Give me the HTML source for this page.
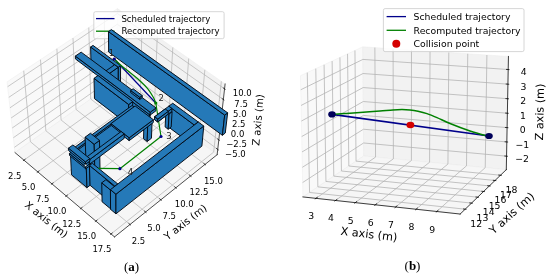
<!DOCTYPE html>
<html><head><meta charset="utf-8"><title>Figure</title><style>html,body{margin:0;padding:0;background:#fff}svg{display:block}</style></head><body>
<svg width="550" height="278" viewBox="0 0 550 278" font-family="DejaVu Sans, Liberation Sans, sans-serif">
<rect width="550" height="278" fill="#fff"/>
<polygon points="15.00,152.58 117.27,80.22 117.37,8.58 7.07,81.84" fill="#f9f9f9" stroke="#e8e8e8" stroke-width="0.4"/>
<polygon points="117.27,80.22 217.15,154.69 225.11,83.98 117.37,8.58" fill="#f2f2f2" stroke="#e8e8e8" stroke-width="0.4"/>
<polygon points="15.00,152.58 114.53,236.91 217.15,154.69 117.27,80.22" fill="#f6f6f6" stroke="#e8e8e8" stroke-width="0.4"/>
<polyline points="23.94,160.16 126.28,86.93 127.04,15.35" fill="none" stroke="#b0b0b0" stroke-width="0.68" stroke-linejoin="round"/>
<polyline points="37.78,171.88 140.20,97.31 142.01,25.82" fill="none" stroke="#b0b0b0" stroke-width="0.68" stroke-linejoin="round"/>
<polyline points="51.88,183.83 154.37,107.88 157.27,36.50" fill="none" stroke="#b0b0b0" stroke-width="0.68" stroke-linejoin="round"/>
<polyline points="66.25,196.00 168.80,118.63 172.82,47.39" fill="none" stroke="#b0b0b0" stroke-width="0.68" stroke-linejoin="round"/>
<polyline points="80.90,208.41 183.49,129.59 188.68,58.49" fill="none" stroke="#b0b0b0" stroke-width="0.68" stroke-linejoin="round"/>
<polyline points="95.83,221.06 198.44,140.74 204.85,69.80" fill="none" stroke="#b0b0b0" stroke-width="0.68" stroke-linejoin="round"/>
<polyline points="111.06,233.96 213.68,152.10 221.35,81.35" fill="none" stroke="#b0b0b0" stroke-width="0.68" stroke-linejoin="round"/>
<polyline points="130.02,224.50 30.39,141.70 23.73,70.77" fill="none" stroke="#b0b0b0" stroke-width="0.68" stroke-linejoin="round"/>
<polyline points="145.59,212.02 45.87,130.74 40.47,59.66" fill="none" stroke="#b0b0b0" stroke-width="0.68" stroke-linejoin="round"/>
<polyline points="160.87,199.78 61.08,119.98 56.89,48.75" fill="none" stroke="#b0b0b0" stroke-width="0.68" stroke-linejoin="round"/>
<polyline points="175.86,187.77 76.02,109.40 73.00,38.05" fill="none" stroke="#b0b0b0" stroke-width="0.68" stroke-linejoin="round"/>
<polyline points="190.57,175.98 90.71,99.01 88.81,27.54" fill="none" stroke="#b0b0b0" stroke-width="0.68" stroke-linejoin="round"/>
<polyline points="205.02,164.41 105.14,88.80 104.33,17.23" fill="none" stroke="#b0b0b0" stroke-width="0.68" stroke-linejoin="round"/>
<polyline points="14.41,147.32 117.28,74.86 217.74,149.43" fill="none" stroke="#b0b0b0" stroke-width="0.68" stroke-linejoin="round"/>
<polyline points="13.34,137.75 117.29,65.14 218.82,139.87" fill="none" stroke="#b0b0b0" stroke-width="0.68" stroke-linejoin="round"/>
<polyline points="12.24,127.98 117.31,55.23 219.92,130.10" fill="none" stroke="#b0b0b0" stroke-width="0.68" stroke-linejoin="round"/>
<polyline points="11.12,118.00 117.32,45.11 221.04,120.12" fill="none" stroke="#b0b0b0" stroke-width="0.68" stroke-linejoin="round"/>
<polyline points="9.98,107.80 117.33,34.79 222.19,109.93" fill="none" stroke="#b0b0b0" stroke-width="0.68" stroke-linejoin="round"/>
<polyline points="8.81,97.37 117.35,24.25 223.36,99.51" fill="none" stroke="#b0b0b0" stroke-width="0.68" stroke-linejoin="round"/>
<polyline points="7.61,86.71 117.36,13.49 224.56,88.85" fill="none" stroke="#b0b0b0" stroke-width="0.68" stroke-linejoin="round"/>
<line x1="15.00" y1="152.58" x2="114.53" y2="236.91" stroke="#000" stroke-width="0.68" stroke-linecap="square"/>
<line x1="114.53" y1="236.91" x2="217.15" y2="154.69" stroke="#000" stroke-width="0.68" stroke-linecap="square"/>
<line x1="217.15" y1="154.69" x2="225.11" y2="83.98" stroke="#000" stroke-width="0.68" stroke-linecap="square"/>
<line x1="25.57" y1="158.99" x2="22.97" y2="160.86" stroke="#000" stroke-width="0.68"/>
<line x1="39.40" y1="170.70" x2="36.81" y2="172.59" stroke="#000" stroke-width="0.68"/>
<line x1="53.49" y1="182.64" x2="50.91" y2="184.54" stroke="#000" stroke-width="0.68"/>
<line x1="67.84" y1="194.80" x2="65.29" y2="196.72" stroke="#000" stroke-width="0.68"/>
<line x1="82.48" y1="207.19" x2="79.94" y2="209.14" stroke="#000" stroke-width="0.68"/>
<line x1="97.40" y1="219.83" x2="94.88" y2="221.80" stroke="#000" stroke-width="0.68"/>
<line x1="112.62" y1="232.72" x2="110.12" y2="234.71" stroke="#000" stroke-width="0.68"/>
<line x1="128.49" y1="223.22" x2="130.95" y2="225.26" stroke="#000" stroke-width="0.68"/>
<line x1="144.04" y1="210.76" x2="146.52" y2="212.78" stroke="#000" stroke-width="0.68"/>
<line x1="159.31" y1="198.53" x2="161.81" y2="200.53" stroke="#000" stroke-width="0.68"/>
<line x1="174.29" y1="186.54" x2="176.81" y2="188.51" stroke="#000" stroke-width="0.68"/>
<line x1="188.99" y1="174.76" x2="191.53" y2="176.72" stroke="#000" stroke-width="0.68"/>
<line x1="203.42" y1="163.20" x2="205.98" y2="165.13" stroke="#000" stroke-width="0.68"/>
<line x1="216.14" y1="148.24" x2="218.71" y2="150.14" stroke="#000" stroke-width="0.68"/>
<line x1="217.21" y1="138.68" x2="219.79" y2="140.58" stroke="#000" stroke-width="0.68"/>
<line x1="218.30" y1="128.92" x2="220.89" y2="130.81" stroke="#000" stroke-width="0.68"/>
<line x1="219.42" y1="118.95" x2="222.02" y2="120.83" stroke="#000" stroke-width="0.68"/>
<line x1="220.57" y1="108.76" x2="223.17" y2="110.63" stroke="#000" stroke-width="0.68"/>
<line x1="221.73" y1="98.35" x2="224.34" y2="100.20" stroke="#000" stroke-width="0.68"/>
<line x1="222.93" y1="87.70" x2="225.55" y2="89.54" stroke="#000" stroke-width="0.68"/>
<text x="14.74" y="178.56" font-size="8.50" text-anchor="middle" fill="#000" >2.5</text>
<text x="28.58" y="190.28" font-size="8.50" text-anchor="middle" fill="#000" >5.0</text>
<text x="42.68" y="202.23" font-size="8.50" text-anchor="middle" fill="#000" >7.5</text>
<text x="57.05" y="214.40" font-size="8.50" text-anchor="middle" fill="#000" >10.0</text>
<text x="71.70" y="226.81" font-size="8.50" text-anchor="middle" fill="#000" >12.5</text>
<text x="86.63" y="239.46" font-size="8.50" text-anchor="middle" fill="#000" >15.0</text>
<text x="101.86" y="252.36" font-size="8.50" text-anchor="middle" fill="#000" >17.5</text>
<text x="138.42" y="243.80" font-size="8.50" text-anchor="middle" fill="#000" >2.5</text>
<text x="153.99" y="231.32" font-size="8.50" text-anchor="middle" fill="#000" >5.0</text>
<text x="169.27" y="219.08" font-size="8.50" text-anchor="middle" fill="#000" >7.5</text>
<text x="184.26" y="207.07" font-size="8.50" text-anchor="middle" fill="#000" >10.0</text>
<text x="198.97" y="195.28" font-size="8.50" text-anchor="middle" fill="#000" >12.5</text>
<text x="213.42" y="183.71" font-size="8.50" text-anchor="middle" fill="#000" >15.0</text>
<text x="235.44" y="156.53" font-size="8.50" text-anchor="middle" fill="#000" >−5.0</text>
<text x="236.52" y="146.97" font-size="8.50" text-anchor="middle" fill="#000" >−2.5</text>
<text x="237.62" y="137.20" font-size="8.50" text-anchor="middle" fill="#000" >0.0</text>
<text x="238.74" y="127.22" font-size="8.50" text-anchor="middle" fill="#000" >2.5</text>
<text x="239.89" y="117.03" font-size="8.50" text-anchor="middle" fill="#000" >5.0</text>
<text x="241.06" y="106.61" font-size="8.50" text-anchor="middle" fill="#000" >7.5</text>
<text x="242.26" y="95.95" font-size="8.50" text-anchor="middle" fill="#000" >10.0</text>
<text x="44.20" y="222.30" font-size="10.20" text-anchor="middle" fill="#000"  transform="rotate(38.5 44.20 222.30)">X axis (m)</text>
<text x="187.60" y="224.90" font-size="10.20" text-anchor="middle" fill="#000"  transform="rotate(-38.0 187.60 224.90)">Y axis (m)</text>
<text x="258.00" y="120.00" font-size="10.20" text-anchor="middle" fill="#000" dominant-baseline="central" transform="rotate(-85.3 258.00 120.00)">Z axis (m)</text>
<rect x="93.8" y="11.7" width="130.3" height="27.0" rx="1.7" fill="#fff" fill-opacity="0.8" stroke="#ccc" stroke-width="0.8"/>
<line x1="96.0" y1="18.60" x2="114.5" y2="18.60" stroke="#00008b" stroke-width="1.3"/>
<text x="121.40" y="21.85" font-size="8.55" text-anchor="start" fill="#000" >Scheduled trajectory</text>
<line x1="96.0" y1="31.20" x2="114.5" y2="31.20" stroke="#008000" stroke-width="1.3"/>
<text x="121.40" y="34.45" font-size="8.55" text-anchor="start" fill="#000" >Recomputed trajectory</text>
<polygon points="108.61,52.05 222.38,135.29 224.71,115.14 108.46,31.60" fill="#2579b8" stroke="#020a14" stroke-width="0.95" stroke-linejoin="round"/>
<polygon points="222.38,135.29 225.27,133.00 227.66,112.84 224.71,115.14" fill="#2579b8" stroke="#020a14" stroke-width="0.95" stroke-linejoin="round"/>
<polygon points="108.46,31.60 224.71,115.14 227.66,112.84 111.41,29.61" fill="#2579b8" stroke="#020a14" stroke-width="0.95" stroke-linejoin="round"/>
<polygon points="91.03,64.12 118.12,84.38 118.16,67.34 90.60,47.03" fill="#2579b8" stroke="#020a14" stroke-width="0.95" stroke-linejoin="round"/>
<polygon points="118.12,84.38 120.49,82.70 120.57,65.65 118.16,67.34" fill="#2579b8" stroke="#020a14" stroke-width="0.95" stroke-linejoin="round"/>
<polygon points="90.60,47.03 118.16,67.34 120.57,65.65 93.00,45.40" fill="#2579b8" stroke="#020a14" stroke-width="0.95" stroke-linejoin="round"/>
<polygon points="105.44,88.35 108.88,90.95 108.75,73.92 105.25,71.31" fill="#2579b8" stroke="#020a14" stroke-width="0.95" stroke-linejoin="round"/>
<polygon points="108.88,90.95 118.12,84.38 118.16,67.34 108.75,73.92" fill="#2579b8" stroke="#020a14" stroke-width="0.95" stroke-linejoin="round"/>
<polygon points="105.25,71.31 108.75,73.92 118.16,67.34 114.66,64.76" fill="#2579b8" stroke="#020a14" stroke-width="0.95" stroke-linejoin="round"/>
<polygon points="98.42,95.84 146.54,132.65 147.05,117.41 98.14,80.48" fill="#2579b8" stroke="#020a14" stroke-width="0.95" stroke-linejoin="round"/>
<polygon points="146.54,132.65 149.57,130.37 150.13,115.12 147.05,117.41" fill="#2579b8" stroke="#020a14" stroke-width="0.95" stroke-linejoin="round"/>
<polygon points="98.14,80.48 147.05,117.41 150.13,115.12 101.21,78.33" fill="#2579b8" stroke="#020a14" stroke-width="0.95" stroke-linejoin="round"/>
<polygon points="75.46,58.96 150.13,115.12 150.23,112.26 75.34,56.07" fill="#2579b8" stroke="#020a14" stroke-width="0.95" stroke-linejoin="round"/>
<polygon points="150.13,115.12 155.94,110.80 156.06,107.93 150.23,112.26" fill="#2579b8" stroke="#020a14" stroke-width="0.95" stroke-linejoin="round"/>
<polygon points="75.34,56.07 150.23,112.26 156.06,107.93 81.16,52.14" fill="#2579b8" stroke="#020a14" stroke-width="0.95" stroke-linejoin="round"/>
<polygon points="130.65,92.59 139.76,99.40 139.81,97.33 130.69,90.53" fill="#2579b8" stroke="#020a14" stroke-width="0.95" stroke-linejoin="round"/>
<polygon points="139.76,99.40 142.21,97.61 142.26,95.55 139.81,97.33" fill="#2579b8" stroke="#020a14" stroke-width="0.95" stroke-linejoin="round"/>
<polygon points="130.69,90.53 139.81,97.33 142.26,95.55 133.14,88.76" fill="#2579b8" stroke="#020a14" stroke-width="0.95" stroke-linejoin="round"/>
<polygon points="94.47,98.64 128.41,124.73 128.68,104.53 94.01,78.33" fill="#2579b8" stroke="#020a14" stroke-width="0.95" stroke-linejoin="round"/>
<polygon points="128.41,124.73 132.36,121.80 132.72,101.59 128.68,104.53" fill="#2579b8" stroke="#020a14" stroke-width="0.95" stroke-linejoin="round"/>
<polygon points="94.01,78.33 128.68,104.53 132.72,101.59 98.05,75.52" fill="#2579b8" stroke="#020a14" stroke-width="0.95" stroke-linejoin="round"/>
<polygon points="167.69,126.38 192.62,145.10 194.31,125.01 168.82,106.19" fill="#2579b8" stroke="#020a14" stroke-width="0.95" stroke-linejoin="round"/>
<polygon points="192.62,145.10 196.48,142.08 198.26,121.97 194.31,125.01" fill="#2579b8" stroke="#020a14" stroke-width="0.95" stroke-linejoin="round"/>
<polygon points="168.82,106.19 194.31,125.01 198.26,121.97 172.76,103.25" fill="#2579b8" stroke="#020a14" stroke-width="0.95" stroke-linejoin="round"/>
<polygon points="165.12,126.90 168.20,129.22 169.07,113.91 165.93,111.58" fill="#2579b8" stroke="#020a14" stroke-width="0.95" stroke-linejoin="round"/>
<polygon points="168.20,129.22 171.19,126.95 172.10,111.62 169.07,113.91" fill="#2579b8" stroke="#020a14" stroke-width="0.95" stroke-linejoin="round"/>
<polygon points="165.93,111.58 169.07,113.91 172.10,111.62 168.97,109.30" fill="#2579b8" stroke="#020a14" stroke-width="0.95" stroke-linejoin="round"/>
<polygon points="154.58,119.60 157.72,121.96 157.85,119.09 154.70,116.73" fill="#2579b8" stroke="#020a14" stroke-width="0.95" stroke-linejoin="round"/>
<polygon points="157.72,121.96 171.79,111.39 171.96,108.51 157.85,119.09" fill="#2579b8" stroke="#020a14" stroke-width="0.95" stroke-linejoin="round"/>
<polygon points="154.70,116.73 157.85,119.09 171.96,108.51 168.82,106.19" fill="#2579b8" stroke="#020a14" stroke-width="0.95" stroke-linejoin="round"/>
<polygon points="71.23,154.44 73.35,156.18 73.14,151.73 71.01,150.00" fill="#2579b8" stroke="#020a14" stroke-width="0.95" stroke-linejoin="round"/>
<polygon points="73.35,156.18 134.10,111.58 134.19,107.08 73.14,151.73" fill="#2579b8" stroke="#020a14" stroke-width="0.95" stroke-linejoin="round"/>
<polygon points="71.01,150.00 73.14,151.73 134.19,107.08 132.05,105.47" fill="#2579b8" stroke="#020a14" stroke-width="0.95" stroke-linejoin="round"/>
<polygon points="143.50,138.65 147.18,141.48 147.70,126.27 143.96,123.43" fill="#2579b8" stroke="#020a14" stroke-width="0.95" stroke-linejoin="round"/>
<polygon points="147.18,141.48 151.44,138.25 152.03,123.03 147.70,126.27" fill="#2579b8" stroke="#020a14" stroke-width="0.95" stroke-linejoin="round"/>
<polygon points="143.96,123.43 147.70,126.27 152.03,123.03 148.29,120.20" fill="#2579b8" stroke="#020a14" stroke-width="0.95" stroke-linejoin="round"/>
<polygon points="110.97,126.47 129.17,140.63 129.21,137.79 110.96,123.62" fill="#2579b8" stroke="#020a14" stroke-width="0.95" stroke-linejoin="round"/>
<polygon points="129.17,140.63 153.27,122.57 153.38,119.71 129.21,137.79" fill="#2579b8" stroke="#020a14" stroke-width="0.95" stroke-linejoin="round"/>
<polygon points="110.96,123.62 129.21,137.79 153.38,119.71 135.12,105.95" fill="#2579b8" stroke="#020a14" stroke-width="0.95" stroke-linejoin="round"/>
<polygon points="73.35,156.18 83.14,164.17 83.03,161.36 73.22,153.35" fill="#2579b8" stroke="#020a14" stroke-width="0.95" stroke-linejoin="round"/>
<polygon points="83.14,164.17 121.09,135.97 121.10,133.13 83.03,161.36" fill="#2579b8" stroke="#020a14" stroke-width="0.95" stroke-linejoin="round"/>
<polygon points="73.22,153.35 83.03,161.36 121.10,133.13 111.27,125.49" fill="#2579b8" stroke="#020a14" stroke-width="0.95" stroke-linejoin="round"/>
<polygon points="86.09,165.35 94.86,172.51 94.18,144.35 85.14,137.13" fill="#2579b8" stroke="#020a14" stroke-width="0.95" stroke-linejoin="round"/>
<polygon points="94.86,172.51 100.01,168.62 99.51,140.43 94.18,144.35" fill="#2579b8" stroke="#020a14" stroke-width="0.95" stroke-linejoin="round"/>
<polygon points="85.14,137.13 94.18,144.35 99.51,140.43 90.46,133.25" fill="#2579b8" stroke="#020a14" stroke-width="0.95" stroke-linejoin="round"/>
<polygon points="83.14,164.17 86.22,166.69 86.07,162.26 82.97,159.74" fill="#2579b8" stroke="#020a14" stroke-width="0.95" stroke-linejoin="round"/>
<polygon points="86.22,166.69 124.18,138.38 124.22,133.91 86.07,162.26" fill="#2579b8" stroke="#020a14" stroke-width="0.95" stroke-linejoin="round"/>
<polygon points="82.97,159.74 86.07,162.26 124.22,133.91 121.11,131.50" fill="#2579b8" stroke="#020a14" stroke-width="0.95" stroke-linejoin="round"/>
<polygon points="71.51,174.79 86.97,187.63 86.15,163.32 70.27,150.37" fill="#2579b8" stroke="#020a14" stroke-width="0.95" stroke-linejoin="round"/>
<polygon points="86.97,187.63 90.25,185.14 89.53,160.81 86.15,163.32" fill="#2579b8" stroke="#020a14" stroke-width="0.95" stroke-linejoin="round"/>
<polygon points="70.27,150.37 86.15,163.32 89.53,160.81 73.64,147.91" fill="#2579b8" stroke="#020a14" stroke-width="0.95" stroke-linejoin="round"/>
<polygon points="90.05,185.29 114.95,205.89 114.93,186.19 89.46,165.44" fill="#2579b8" stroke="#020a14" stroke-width="0.95" stroke-linejoin="round"/>
<polygon points="114.95,205.89 117.77,203.69 117.81,183.97 114.93,186.19" fill="#2579b8" stroke="#020a14" stroke-width="0.95" stroke-linejoin="round"/>
<polygon points="89.46,165.44 114.93,186.19 117.81,183.97 92.34,163.30" fill="#2579b8" stroke="#020a14" stroke-width="0.95" stroke-linejoin="round"/>
<polygon points="69.54,155.52 85.77,168.81 85.70,166.78 69.43,153.48" fill="#2579b8" stroke="#020a14" stroke-width="0.95" stroke-linejoin="round"/>
<polygon points="85.77,168.81 89.80,165.80 89.74,163.77 85.70,166.78" fill="#2579b8" stroke="#020a14" stroke-width="0.95" stroke-linejoin="round"/>
<polygon points="69.43,153.48 85.70,166.78 89.74,163.77 73.47,150.54" fill="#2579b8" stroke="#020a14" stroke-width="0.95" stroke-linejoin="round"/>
<polygon points="102.07,201.76 110.88,209.08 110.76,190.21 101.76,182.84" fill="#2579b8" stroke="#020a14" stroke-width="0.95" stroke-linejoin="round"/>
<polygon points="110.88,209.08 114.95,205.89 114.93,187.00 110.76,190.21" fill="#2579b8" stroke="#020a14" stroke-width="0.95" stroke-linejoin="round"/>
<polygon points="101.76,182.84 110.76,190.21 114.93,187.00 105.93,179.66" fill="#2579b8" stroke="#020a14" stroke-width="0.95" stroke-linejoin="round"/>
<polygon points="110.55,209.34 115.94,213.82 115.94,194.19 110.42,189.67" fill="#2579b8" stroke="#020a14" stroke-width="0.95" stroke-linejoin="round"/>
<polygon points="115.94,213.82 201.88,146.12 203.78,126.03 115.94,194.19" fill="#2579b8" stroke="#020a14" stroke-width="0.95" stroke-linejoin="round"/>
<polygon points="110.42,189.67 115.94,194.19 203.78,126.03 198.26,121.97" fill="#2579b8" stroke="#020a14" stroke-width="0.95" stroke-linejoin="round"/>
<polygon points="68.64,150.61 85.45,164.33 85.37,161.86 68.51,148.13" fill="#2579b8" stroke="#020a14" stroke-width="0.95" stroke-linejoin="round"/>
<polygon points="85.45,164.33 89.84,161.06 89.77,158.59 85.37,161.86" fill="#2579b8" stroke="#020a14" stroke-width="0.95" stroke-linejoin="round"/>
<polygon points="68.51,148.13 85.37,161.86 89.77,158.59 72.91,144.94" fill="#2579b8" stroke="#020a14" stroke-width="0.95" stroke-linejoin="round"/>
<polyline points="114.3,59 155.8,103" fill="none" stroke="#00008b" stroke-width="1.2"/>
<path d="M114.30,59.00 C115.40,60.05 118.65,63.33 120.90,65.30 C123.15,67.27 125.00,68.55 127.80,70.80 C130.60,73.05 134.40,75.82 137.70,78.80 C141.00,81.78 145.00,85.62 147.60,88.70 C150.20,91.78 151.93,94.92 153.30,97.30 C154.67,99.68 155.38,102.05 155.80,103.00 L161,136.5 L119.9,168.7 L98.5,168.4" fill="none" stroke="#008000" stroke-width="1.2" stroke-linejoin="round"/>
<polygon points="154.58,119.60 157.72,121.96 157.85,119.09 154.70,116.73" fill="#2579b8" stroke="#020a14" stroke-width="0.95" stroke-linejoin="round"/>
<polygon points="157.72,121.96 168.14,114.13 168.30,111.25 157.85,119.09" fill="#2579b8" stroke="#020a14" stroke-width="0.95" stroke-linejoin="round"/>
<polygon points="154.70,116.73 157.85,119.09 168.30,111.25 165.16,108.92" fill="#2579b8" stroke="#020a14" stroke-width="0.95" stroke-linejoin="round"/>
<circle cx="85.7" cy="165.4" r="1.1" fill="#fff" stroke="#111" stroke-width="0.5"/>
<circle cx="114.3" cy="59.0" r="1.6" fill="#00008b"/>
<circle cx="155.8" cy="103.0" r="1.6" fill="#008000"/>
<circle cx="161.0" cy="136.5" r="1.6" fill="#00008b"/>
<circle cx="119.9" cy="168.7" r="1.6" fill="#00008b"/>
<text x="111.40" y="56.20" font-size="8.50" text-anchor="middle" fill="#222" >1</text>
<text x="161.30" y="101.00" font-size="8.50" text-anchor="middle" fill="#222" >2</text>
<text x="169.00" y="139.20" font-size="8.50" text-anchor="middle" fill="#222" >3</text>
<text x="130.50" y="174.50" font-size="8.50" text-anchor="middle" fill="#222" >4</text>
<text x="131.6" y="271.3" font-size="13" text-anchor="middle" font-family="Liberation Serif, serif">(<tspan font-weight="bold">a</tspan>)</text>
<polygon points="302.93,196.93 363.74,155.96 362.80,46.79 300.45,75.73" fill="#f9f9f9" stroke="#e8e8e8" stroke-width="0.4"/>
<polygon points="363.74,155.96 506.30,169.64 508.45,56.44 362.80,46.79" fill="#f2f2f2" stroke="#e8e8e8" stroke-width="0.4"/>
<polygon points="302.93,196.93 460.15,214.05 506.30,169.64 363.74,155.96" fill="#f6f6f6" stroke="#e8e8e8" stroke-width="0.4"/>
<polyline points="315.91,198.34 375.56,157.10 374.86,47.59" fill="none" stroke="#b0b0b0" stroke-width="0.75" stroke-linejoin="round"/>
<polyline points="335.51,200.48 393.39,158.81 393.08,48.80" fill="none" stroke="#b0b0b0" stroke-width="0.75" stroke-linejoin="round"/>
<polyline points="355.33,202.64 411.40,160.54 411.47,50.02" fill="none" stroke="#b0b0b0" stroke-width="0.75" stroke-linejoin="round"/>
<polyline points="375.37,204.82 429.59,162.28 430.04,51.25" fill="none" stroke="#b0b0b0" stroke-width="0.75" stroke-linejoin="round"/>
<polyline points="395.63,207.02 447.95,164.04 448.81,52.49" fill="none" stroke="#b0b0b0" stroke-width="0.75" stroke-linejoin="round"/>
<polyline points="416.11,209.25 466.50,165.82 467.76,53.74" fill="none" stroke="#b0b0b0" stroke-width="0.75" stroke-linejoin="round"/>
<polyline points="436.82,211.51 485.23,167.62 486.90,55.01" fill="none" stroke="#b0b0b0" stroke-width="0.75" stroke-linejoin="round"/>
<polyline points="465.20,209.19 309.56,192.46 307.26,72.57" fill="none" stroke="#b0b0b0" stroke-width="0.75" stroke-linejoin="round"/>
<polyline points="471.52,203.10 317.87,186.87 315.79,68.61" fill="none" stroke="#b0b0b0" stroke-width="0.75" stroke-linejoin="round"/>
<polyline points="477.66,197.20 325.94,181.43 324.08,64.76" fill="none" stroke="#b0b0b0" stroke-width="0.75" stroke-linejoin="round"/>
<polyline points="483.62,191.47 333.79,176.14 332.12,61.03" fill="none" stroke="#b0b0b0" stroke-width="0.75" stroke-linejoin="round"/>
<polyline points="489.41,185.90 341.42,171.00 339.95,57.40" fill="none" stroke="#b0b0b0" stroke-width="0.75" stroke-linejoin="round"/>
<polyline points="495.03,180.49 348.84,166.00 347.55,53.87" fill="none" stroke="#b0b0b0" stroke-width="0.75" stroke-linejoin="round"/>
<polyline points="500.49,175.23 356.06,161.14 354.94,50.44" fill="none" stroke="#b0b0b0" stroke-width="0.75" stroke-linejoin="round"/>
<polyline points="302.64,182.54 363.63,142.98 506.56,156.18" fill="none" stroke="#b0b0b0" stroke-width="0.75" stroke-linejoin="round"/>
<polyline points="302.33,167.30 363.51,129.23 506.83,141.94" fill="none" stroke="#b0b0b0" stroke-width="0.75" stroke-linejoin="round"/>
<polyline points="302.01,151.98 363.39,115.42 507.10,127.62" fill="none" stroke="#b0b0b0" stroke-width="0.75" stroke-linejoin="round"/>
<polyline points="301.70,136.56 363.27,101.53 507.37,113.22" fill="none" stroke="#b0b0b0" stroke-width="0.75" stroke-linejoin="round"/>
<polyline points="301.38,121.06 363.15,87.56 507.65,98.73" fill="none" stroke="#b0b0b0" stroke-width="0.75" stroke-linejoin="round"/>
<polyline points="301.06,105.46 363.03,73.52 507.92,84.17" fill="none" stroke="#b0b0b0" stroke-width="0.75" stroke-linejoin="round"/>
<polyline points="300.74,89.76 362.91,59.41 508.20,69.53" fill="none" stroke="#b0b0b0" stroke-width="0.75" stroke-linejoin="round"/>
<line x1="302.93" y1="196.93" x2="460.15" y2="214.05" stroke="#000" stroke-width="0.75" stroke-linecap="square"/>
<line x1="460.15" y1="214.05" x2="506.30" y2="169.64" stroke="#000" stroke-width="0.75" stroke-linecap="square"/>
<line x1="506.30" y1="169.64" x2="508.45" y2="56.44" stroke="#000" stroke-width="0.75" stroke-linecap="square"/>
<line x1="317.72" y1="197.09" x2="314.84" y2="199.08" stroke="#000" stroke-width="0.75"/>
<line x1="337.30" y1="199.19" x2="334.46" y2="201.24" stroke="#000" stroke-width="0.75"/>
<line x1="357.09" y1="201.31" x2="354.29" y2="203.42" stroke="#000" stroke-width="0.75"/>
<line x1="377.10" y1="203.46" x2="374.35" y2="205.62" stroke="#000" stroke-width="0.75"/>
<line x1="397.33" y1="205.63" x2="394.62" y2="207.85" stroke="#000" stroke-width="0.75"/>
<line x1="417.77" y1="207.82" x2="415.12" y2="210.10" stroke="#000" stroke-width="0.75"/>
<line x1="438.45" y1="210.03" x2="435.85" y2="212.38" stroke="#000" stroke-width="0.75"/>
<line x1="463.01" y1="208.95" x2="466.49" y2="209.33" stroke="#000" stroke-width="0.75"/>
<line x1="469.34" y1="202.87" x2="472.82" y2="203.24" stroke="#000" stroke-width="0.75"/>
<line x1="475.47" y1="196.97" x2="478.95" y2="197.33" stroke="#000" stroke-width="0.75"/>
<line x1="481.43" y1="191.24" x2="484.91" y2="191.60" stroke="#000" stroke-width="0.75"/>
<line x1="487.22" y1="185.68" x2="490.70" y2="186.03" stroke="#000" stroke-width="0.75"/>
<line x1="492.84" y1="180.27" x2="496.32" y2="180.62" stroke="#000" stroke-width="0.75"/>
<line x1="498.30" y1="175.02" x2="501.79" y2="175.36" stroke="#000" stroke-width="0.75"/>
<line x1="504.37" y1="155.98" x2="507.85" y2="156.30" stroke="#000" stroke-width="0.75"/>
<line x1="504.64" y1="141.74" x2="508.12" y2="142.05" stroke="#000" stroke-width="0.75"/>
<line x1="504.91" y1="127.43" x2="508.39" y2="127.73" stroke="#000" stroke-width="0.75"/>
<line x1="505.18" y1="113.04" x2="508.67" y2="113.32" stroke="#000" stroke-width="0.75"/>
<line x1="505.45" y1="98.56" x2="508.94" y2="98.83" stroke="#000" stroke-width="0.75"/>
<line x1="505.73" y1="84.01" x2="509.22" y2="84.27" stroke="#000" stroke-width="0.75"/>
<line x1="506.01" y1="69.38" x2="509.50" y2="69.62" stroke="#000" stroke-width="0.75"/>
<text x="311.31" y="219.34" font-size="9.30" text-anchor="middle" fill="#000" >3</text>
<text x="330.91" y="221.48" font-size="9.30" text-anchor="middle" fill="#000" >4</text>
<text x="350.73" y="223.64" font-size="9.30" text-anchor="middle" fill="#000" >5</text>
<text x="370.77" y="225.82" font-size="9.30" text-anchor="middle" fill="#000" >6</text>
<text x="391.03" y="228.02" font-size="9.30" text-anchor="middle" fill="#000" >7</text>
<text x="411.51" y="230.25" font-size="9.30" text-anchor="middle" fill="#000" >8</text>
<text x="432.22" y="232.51" font-size="9.30" text-anchor="middle" fill="#000" >9</text>
<text x="476.20" y="226.59" font-size="9.30" text-anchor="middle" fill="#000" >12</text>
<text x="482.52" y="220.50" font-size="9.30" text-anchor="middle" fill="#000" >13</text>
<text x="488.66" y="214.60" font-size="9.30" text-anchor="middle" fill="#000" >14</text>
<text x="494.62" y="208.87" font-size="9.30" text-anchor="middle" fill="#000" >15</text>
<text x="500.41" y="203.30" font-size="9.30" text-anchor="middle" fill="#000" >16</text>
<text x="506.03" y="197.89" font-size="9.30" text-anchor="middle" fill="#000" >17</text>
<text x="511.49" y="192.63" font-size="9.30" text-anchor="middle" fill="#000" >18</text>
<text x="522.16" y="161.78" font-size="9.30" text-anchor="middle" fill="#000" >−2</text>
<text x="522.43" y="147.54" font-size="9.30" text-anchor="middle" fill="#000" >−1</text>
<text x="522.70" y="133.22" font-size="9.30" text-anchor="middle" fill="#000" >0</text>
<text x="522.97" y="118.82" font-size="9.30" text-anchor="middle" fill="#000" >1</text>
<text x="523.25" y="104.33" font-size="9.30" text-anchor="middle" fill="#000" >2</text>
<text x="523.52" y="89.77" font-size="9.30" text-anchor="middle" fill="#000" >3</text>
<text x="523.80" y="75.13" font-size="9.30" text-anchor="middle" fill="#000" >4</text>
<text x="369.00" y="234.50" font-size="11.20" text-anchor="middle" fill="#000" dominant-baseline="central" transform="rotate(6.5 369.00 234.50)">X axis (m)</text>
<text x="512.00" y="213.50" font-size="11.20" text-anchor="middle" fill="#000" dominant-baseline="central" transform="rotate(-42.0 512.00 213.50)">Y axis (m)</text>
<text x="540.00" y="112.00" font-size="11.20" text-anchor="middle" fill="#000" dominant-baseline="central" transform="rotate(-89.0 540.00 112.00)">Z axis (m)</text>
<line x1="332" y1="114.4" x2="489" y2="136" stroke="#00008b" stroke-width="1.6"/>
<path d="M332.00,114.40 C334.17,114.27 340.33,113.90 345.00,113.60 C349.67,113.30 354.17,113.03 360.00,112.60 C365.83,112.17 374.50,111.45 380.00,111.00 C385.50,110.55 389.33,110.15 393.00,109.90 C396.67,109.65 399.17,109.50 402.00,109.50 C404.83,109.50 407.33,109.62 410.00,109.90 C412.67,110.18 415.17,110.58 418.00,111.20 C420.83,111.82 423.83,112.53 427.00,113.60 C430.17,114.67 433.17,115.95 437.00,117.60 C440.83,119.25 444.50,121.27 450.00,123.50 C455.50,125.73 464.00,128.98 470.00,131.00 C476.00,133.02 482.83,134.77 486.00,135.60 C489.17,136.43 488.50,135.93 489.00,136.00" fill="none" stroke="#008000" stroke-width="1.5"/>
<ellipse cx="332" cy="114.4" rx="3.8" ry="3.1" fill="#00005a"/>
<ellipse cx="489" cy="136" rx="3.8" ry="3.1" fill="#00005a"/>
<ellipse cx="410.4" cy="125" rx="3.9" ry="3.3" fill="#d40000"/>
<rect x="383.4" y="8.6" width="140.6" height="43.0" rx="1.7" fill="#fff" fill-opacity="0.8" stroke="#ccc" stroke-width="0.8"/>
<line x1="386.6" y1="16.60" x2="406.0" y2="16.60" stroke="#00008b" stroke-width="1.3"/>
<text x="413.60" y="20.13" font-size="9.30" text-anchor="start" fill="#000" >Scheduled trajectory</text>
<line x1="386.6" y1="30.30" x2="406.0" y2="30.30" stroke="#008000" stroke-width="1.3"/>
<text x="413.60" y="33.83" font-size="9.30" text-anchor="start" fill="#000" >Recomputed trajectory</text>
<circle cx="396.3" cy="43.80" r="4.0" fill="#d40000"/>
<text x="413.60" y="47.33" font-size="9.30" text-anchor="start" fill="#000" >Collision point</text>
<text x="412.5" y="270.3" font-size="13" text-anchor="middle" font-family="Liberation Serif, serif">(<tspan font-weight="bold">b</tspan>)</text>
</svg>
</body></html>
